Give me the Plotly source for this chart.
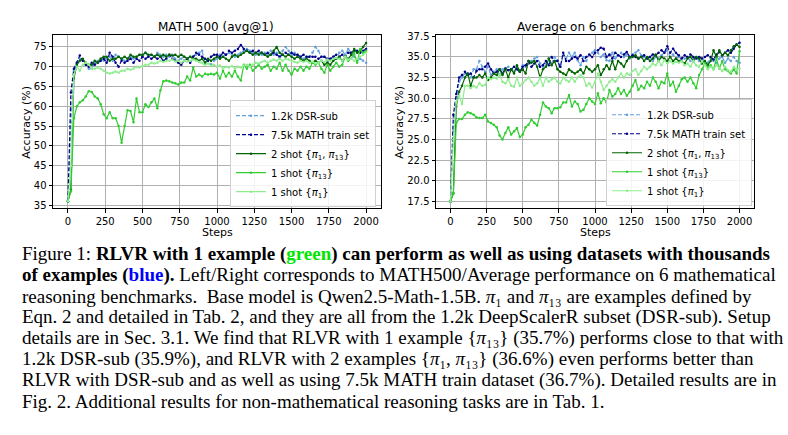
import plotly.graph_objects as go

steps = list(range(0, 2001, 20))

series_names = ["1.2k DSR-sub", "7.5k MATH train set",
                "2 shot {<i>π</i><sub>1</sub>, <i>π</i><sub>13</sub>}",
                "1 shot {<i>π</i><sub>13</sub>}", "1 shot {<i>π</i><sub>1</sub>}"]

# ---------- MATH500 (left) ----------
m_dsr = [36, 56, 69, 70.5, 72, 71.5, 70.5, 69.5, 69.5, 71,
         71.5, 72, 71.5, 72, 72.5, 71.5, 73, 72.5, 72, 71.5,
         72, 72.5, 72, 72.5, 73, 72.5, 73.5, 72.5, 73, 72.5,
         73.5, 73, 72.5, 73, 72.5, 73, 72, 71.5, 72, 72.5,
         72, 72.5, 72.5, 73, 73.5, 74, 71, 71.5, 70.5, 71.5,
         72, 73, 72.5, 73, 73.5, 73, 72.5, 73, 73.5, 74,
         74.5, 74, 73.5, 73, 73.5, 73, 73.5, 73, 74, 73,
         73.5, 72.5, 74, 75, 74, 73, 73.5, 73, 72.5, 72,
         72.5, 72.5, 73.5, 75, 74, 72.5, 72.5, 71.5, 72, 72.5,
         72, 73.5, 74, 73, 74.5, 73.5, 72.5, 71.5, 72, 71.5,
         71]
m_math = [36, 63.5, 69.5, 71, 72.8, 71.5, 70.5, 70, 71, 70.5,
          71, 71.5, 72, 71, 73.5, 72.5, 71, 70, 71.5, 71,
          71.5, 72, 71, 72, 71.5, 72.5, 72, 72.5, 72, 72.5,
          72, 72.5, 71.5, 72, 73, 72, 71.5, 71, 70.5, 71.5,
          72, 71, 72.5, 73.5, 73, 72.5, 72, 71.5, 72.5, 73,
          73, 72.5, 73.5, 73, 74, 73.5, 74, 74.5, 75.5, 74.5,
          74, 73.5, 74, 73.5, 74, 73.5, 73, 73.5, 73, 73.5,
          73, 72.5, 73, 73.5, 73, 73.5, 73, 73, 72.5, 73,
          72.5, 72.5, 72.5, 72.5, 72, 72.5, 72.5, 72, 72, 72.5,
          73, 72.5, 73, 72.5, 73.5, 73.5, 74, 74, 73.5, 74,
          74.5]
m_two = [36, 39, 67, 70.5, 71.5, 72, 71, 70.5, 70.5, 71.5,
         71, 72, 72.5, 72.5, 71.5, 72, 72, 72.5, 72, 72.5,
         72, 73, 72.5, 72.5, 73, 73, 73.5, 73, 73, 72.5,
         73, 72.5, 73, 72.5, 73, 72.8, 73, 72.5, 73, 72.5,
         72, 72.5, 72, 72, 71.5, 72, 71, 72, 71.5, 72,
         72.5, 72, 72.5, 72, 71.5, 72.5, 73, 72.5, 73, 73.5,
         74, 73.5, 73, 73.5, 73, 73.5, 73, 72.5, 73, 74,
         75, 73.5, 73, 72.5, 73, 72.5, 72, 72.5, 72, 71.5,
         72, 71.5, 71, 71.5, 71, 71.5, 70.5, 71, 70.5, 71.5,
         72, 72.5, 71.5, 72.5, 72, 73, 74.5, 73.5, 74, 75,
         76]
m_p13 = [36, 38.5, 57, 60, 61, 61.5, 62.5, 63.8, 63.6, 62.5,
         62, 60.5, 58, 57, 58.5, 57, 57, 55, 50.8, 55,
         59, 58.8, 56, 62, 58.5, 58.5, 60.5, 59.8, 61, 62,
         59.5, 64, 66.3, 66.5, 66.3, 66, 65.8, 65.5, 66, 66,
         67.5, 66.5, 69.8, 67.5, 68, 67.5, 68.2, 68, 68.2, 68,
         68.5, 67, 69, 67.5, 68.5, 67.5, 69, 67.5, 66.5, 70.5,
         69.5, 70.5, 69, 69.8, 70.5, 69.5, 70, 70.5, 69, 70,
         69.5, 71, 69, 70.5, 69, 68, 69.5, 69, 70, 69,
         70, 69.5, 71, 70.5, 71, 69.5, 68.5, 70.5, 69, 70,
         71, 70, 70.5, 72.5, 71.5, 72, 73.5, 71, 74.5, 73.5,
         74]
m_p1 = [36, 45, 68, 70, 69, 70.5, 71, 70.5, 69.5, 69.5,
        69.8, 69.5, 69, 68.5, 68.3, 68.5, 68.8, 68.5, 69, 69,
        69.5, 69.2, 69.5, 70, 69.8, 70.2, 70.5, 70.5, 71, 70.8,
        71, 71.5, 71.2, 71.5, 71.5, 71.8, 71.3, 71.5, 71, 71.5,
        71.3, 71.5, 71.8, 71.5, 71.2, 71, 70.5, 70.8, 70.2, 70.5,
        70, 70.3, 69.5, 70, 69.8, 70.2, 69.5, 70, 69.8, 70.3,
        70.5, 70, 70.5, 71, 70.8, 71.2, 71.5, 71, 71.5, 71.8,
        71.5, 72, 71.5, 72, 71.8, 71.5, 71.2, 71, 71.5, 71.2,
        71.5, 71, 71.3, 70.8, 71, 71.5, 71.2, 71.8, 71.5, 72,
        72.2, 72, 71.5, 72.5, 71.8, 72, 71.5, 72, 72.5, 73,
        73.5]

# ---------- Average on 6 benchmarks (right) ----------
r_dsr = [17.5, 26, 30, 32, 32.5, 33, 33, 32.5, 33.5, 33.5,
         34.5, 33.8, 33.2, 33.8, 32.8, 33.2, 33.5, 32.8, 33.5, 33.6,
         33.8, 33.5, 33.2, 33.8, 33.4, 34, 33.8, 34.2, 34.5, 34.8,
         35, 34.2, 33.8, 34.2, 34.8, 34.2, 35, 34.6, 33.8, 35.2,
         34.8, 35.5, 35, 35.5, 34.6, 34, 35, 34.5, 35.2, 35.5,
         35.8, 35.5, 35, 35.3, 34.6, 34.5, 35.5, 34.8, 35.2, 35.5,
         35, 35.3, 34.8, 35.3, 35.5, 35.8, 35.2, 35, 34.8, 35,
         34.5, 35, 34.8, 35.2, 35.5, 35.8, 35, 35.3, 34.8, 35,
         34.5, 34.8, 35, 34.5, 34.8, 35, 34.5, 34.7, 34.5, 34.3,
         34.8, 34.5, 34.2, 34.8, 35, 34.3, 34.8, 34.5, 35, 34.5,
         34.3]
r_math = [17.5, 28, 30.5, 32.5, 32.8, 33.2, 32.8, 33, 32.5, 33.3,
          33.5, 33.5, 33.8, 34.2, 33.5, 33, 33.2, 33.5, 33, 33.6,
          33.4, 33.5, 33.8, 33.5, 33.2, 33.8, 34, 34.5, 33.8, 34.2,
          34.5, 33.8, 34, 34.5, 34, 35, 34.5, 34.5, 33.8, 35.5,
          34.5, 34.5, 34.8, 35, 34.8, 35.2, 34.5, 35, 35.3, 35,
          35.5, 35.8, 36.1, 36, 35, 35.3, 34.8, 35.5, 35.2, 35,
          35.3, 35.6, 35, 35.2, 35, 34.8, 35, 35.2, 34.8, 35,
          35.3, 35.2, 35.5, 35.8, 35.5, 36.3, 35.5, 36, 35.5, 35.2,
          34.8, 35.2, 35, 35.3, 35, 34.8, 35, 34.8, 35, 35.2,
          35, 34.7, 35.3, 35.6, 35.2, 35.5, 35.8, 35.5, 36, 36.5,
          36.7]
r_two = [17.5, 18.5, 29, 30.8, 31.5, 32.5, 33, 31.5, 32.5, 32.5,
         32.8, 32.5, 33, 32.2, 32.5, 33, 32.8, 33.5, 32.8, 33.5,
         32.5, 33.5, 33, 34, 33.2, 33.5, 33, 34.5, 34.3, 34.5,
         33.8, 32.5, 33.5, 33.8, 34.8, 34, 34.5, 33.5, 33.2, 33,
         32.8, 33.5, 33.2, 33, 33.2, 33.5, 33, 33.8, 33.5, 33.2,
         33.5, 34, 32.8, 33.5, 34, 33.5, 34.5, 33.5, 34.5, 34.2,
         33.8, 34.5, 35, 35, 35.2, 34.8, 35, 34.5, 35, 34.5,
         34.8, 35.3, 34.5, 35, 34.8, 34.5, 35, 34.5, 34.8, 34.5,
         34.5, 34.2, 34.8, 35, 34.5, 35, 34.8, 34.2, 34.5, 34,
         34.5, 35.8, 35, 35.8, 35.2, 35.5, 35.2, 35.8, 36.3, 36.5,
         36.2]
r_p13 = [17.5, 18.5, 27, 27.5, 27.5, 28, 28.3, 28.2, 28, 27.7,
         27.6, 27.6, 28, 27.2, 27, 26.8, 26.5, 25.5, 25, 25.8,
         26.5, 25.6, 26, 26.4, 25.3, 25.6, 26.5, 26.8, 27.4, 27,
         26.7, 28, 29.5, 29, 28.8, 28.2, 28.8, 28.8, 28.9, 29.5,
         29.5, 30.4, 29, 29.6, 29.3, 28.4, 28.6, 29.3, 30, 29.6,
         29.3, 30.6, 29.4, 30, 29.5, 31, 30.2, 30.5, 31.2, 30.5,
         31, 30.3, 30.8, 31.5, 32.2, 31, 31.5, 31.2, 32, 31.5,
         32.5, 32, 31.2, 32, 31.8, 33, 31.5, 32, 30.8, 31.5,
         32.3, 32.5, 32, 32.5, 31.8, 31.2, 32.8, 33.5, 34.2, 33.8,
         34, 33.5, 34.8, 33.6, 34.5, 33.5, 33.3, 33, 33.5, 33,
         35.7]
r_p1 = [17.5, 25, 29.5, 30.3, 29.3, 31.5, 31.5, 31.2, 31.5, 31.3,
        31.8, 31.5, 31.6, 32.5, 32.3, 32.5, 32.4, 32.8, 32, 31.8,
        32.3, 31.5, 31.4, 32.5, 31.5, 31.8, 32.2, 32.5, 32, 31.5,
        31.8, 32.5, 31.5, 32.5, 32, 32.3, 32.5, 32, 31.8, 32.5,
        32.2, 32, 32.5, 32, 32.5, 32.8, 32.5, 31.5, 31.8, 31.3,
        32, 33, 32, 31, 31.5, 32, 32.3, 32, 32.5, 33,
        32.5, 33, 32.8, 33.3, 33.5, 32.8, 33.3, 33.8, 33.5, 33.8,
        34.2, 34, 34.5, 34, 34.6, 34.2, 34.5, 34.2, 34.4, 34.3,
        34.5, 34, 34.2, 33.8, 34.5, 34, 33.8, 34.5, 34, 33.5,
        33.8, 33.5, 34, 33.7, 33.3, 33.8, 33.4, 33.2, 33.8, 33.5,
        33.6]

left_ticks = [35, 40, 45, 50, 55, 60, 65, 70, 75]
right_ticks = [17.5, 20.0, 22.5, 25.0, 27.5, 30.0, 32.5, 35.0, 37.5]
x_ticks = [0, 250, 500, 750, 1000, 1250, 1500, 1750, 2000]

caption_lines = [
    "Figure 1: <b>RLVR with 1 example (<span style='color:#00e600'>green</span>) can perform as well as using datasets with thousands</b>",
    "<b>of examples (<span style='color:#0000ff'>blue</span>).</b> Left/Right corresponds to MATH500/Average performance on 6 mathematical",
    "reasoning benchmarks.  Base model is Qwen2.5-Math-1.5B. <i>π</i>₁ and <i>π</i>₁₃ are examples defined by",
    "Eqn. 2 and detailed in Tab. 2, and they are all from the 1.2k DeepScalerR subset (DSR-sub). Setup",
    "details are in Sec. 3.1. We find that RLVR with 1 example {<i>π</i>₁₃} (35.7%) performs close to that with",
    "1.2k DSR-sub (35.9%), and RLVR with 2 examples {<i>π</i>₁, <i>π</i>₁₃} (36.6%) even performs better than",
    "RLVR with DSR-sub and as well as using 7.5k MATH train dataset (36.7%). Detailed results are in",
    "Fig. 2. Additional results for non-mathematical reasoning tasks are in Tab. 1.",
]

colors = ["#64a0dc", "#00008b", "#006400", "#32cd32", "#90ee90"]
dashes = ["4px,2px", "4px,2px", "solid", "solid", "solid"]

W, H = 788, 435
def px(x):
    return x / W
def py(y):
    return 1 - y / H

fig = go.Figure()
left_data = [m_dsr, m_math, m_two, m_p13, m_p1]
right_data = [r_dsr, r_math, r_two, r_p13, r_p1]
for i in range(5):
    fig.add_trace(go.Scatter(x=steps, y=left_data[i], name=series_names[i], mode="lines+markers",
                             line=dict(color=colors[i], width=1.2, dash=dashes[i]),
                             marker=dict(size=2.5, color=colors[i]),
                             xaxis="x", yaxis="y", legend="legend"))
for i in range(5):
    fig.add_trace(go.Scatter(x=steps, y=right_data[i], name=series_names[i], mode="lines+markers",
                             line=dict(color=colors[i], width=1.2, dash=dashes[i]),
                             marker=dict(size=2.5, color=colors[i]),
                             xaxis="x2", yaxis="y2", legend="legend2"))

font_ax = dict(family="DejaVu Sans", size=10, color="black")
axis_common = dict(showline=True, linecolor="black", linewidth=1, mirror=True,
                   ticks="outside", ticklen=3.5, tickwidth=0.8, tickcolor="black",
                   showgrid=True, gridcolor="#b0b0b0", gridwidth=0.8, zeroline=False,
                   tickfont=font_ax)

fig.update_layout(
    width=W, height=H, margin=dict(l=0, r=0, t=0, b=0),
    paper_bgcolor="white", plot_bgcolor="white",
    xaxis=dict(domain=[px(53), px(381)], range=[-100, 2100], tickvals=x_ticks, anchor="y", **axis_common),
    yaxis=dict(domain=[py(207), py(31)], range=[34.26, 77.9], tickvals=left_ticks, anchor="x", **axis_common),
    xaxis2=dict(domain=[px(436), px(754)], range=[-100, 2100], tickvals=x_ticks, anchor="y2", **axis_common),
    yaxis2=dict(domain=[py(207), py(31)], range=[16.7, 37.6], tickvals=right_ticks, tickformat=".1f",
                anchor="x2", **axis_common),
    legend=dict(x=px(376), y=py(206), xanchor="right", yanchor="bottom",
                bgcolor="rgba(255,255,255,0.85)", bordercolor="#d0d0d0", borderwidth=1,
                font=dict(family="DejaVu Sans", size=10, color="black"), tracegroupgap=0),
    legend2=dict(x=px(752), y=py(205), xanchor="right", yanchor="bottom",
                 bgcolor="rgba(255,255,255,0.85)", bordercolor="#d0d0d0", borderwidth=1,
                 font=dict(family="DejaVu Sans", size=10, color="black"), tracegroupgap=0),
    showlegend=True,
)

ann = []
title_font = dict(family="DejaVu Sans", size=12, color="black")
lab_font = dict(family="DejaVu Sans", size=11, color="black")
ann.append(dict(text="MATH 500 (avg@1)", x=px(216), y=py(22), font=title_font))
ann.append(dict(text="Average on 6 benchmarks", x=px(595), y=py(22), font=title_font))
ann.append(dict(text="Steps", x=px(217), y=py(232), font=lab_font))
ann.append(dict(text="Steps", x=px(595), y=py(232), font=lab_font))
ann.append(dict(text="Accuracy (%)", x=px(27), y=py(120), textangle=-90, font=lab_font))
ann.append(dict(text="Accuracy (%)", x=px(400), y=py(120), textangle=-90, font=lab_font))
for a in ann:
    a.update(xref="paper", yref="paper", showarrow=False, xanchor="center", yanchor="middle")

cap_font = dict(family="Liberation Serif", size=19, color="black")
for k, line in enumerate(caption_lines):
    ann.append(dict(text=line, x=px(20), y=py(254 + k * 21.4), xref="paper", yref="paper",
                    showarrow=False, xanchor="left", yanchor="middle", align="left", font=cap_font))

fig.update_layout(annotations=ann)
fig.write_html("out.html")
